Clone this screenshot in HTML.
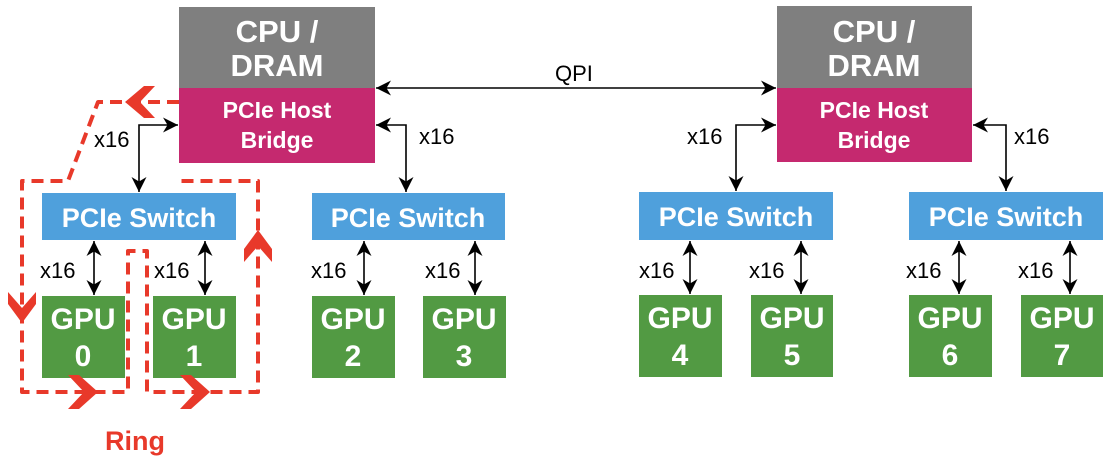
<!DOCTYPE html>
<html><head><meta charset="utf-8"><style>
html,body{margin:0;padding:0;background:#fff;}
svg{display:block;}
.b{font-family:"Liberation Sans",sans-serif;font-weight:bold;fill:#fff;text-anchor:middle;}
.l{font-family:"Liberation Sans",sans-serif;font-size:22px;fill:#000;}
</style></head><body>
<svg width="1112" height="462" viewBox="0 0 1112 462" xmlns="http://www.w3.org/2000/svg">
<defs>
<marker id="m" viewBox="0 0 10 10" refX="10" refY="5" markerWidth="15" markerHeight="15" orient="auto-start-reverse" markerUnits="userSpaceOnUse"><path d="M0,0 L10,5 L0,10 L3,5 z" fill="#000"/></marker>
</defs>
<rect x="179" y="7" width="196" height="81" fill="#7f7f7f"/>
<rect x="179" y="88" width="196" height="75" fill="#c5296f"/>
<text class="b" x="277" y="42" font-size="31">CPU /</text>
<text class="b" x="277" y="76" font-size="31">DRAM</text>
<text class="b" x="277" y="118" font-size="23">PCIe Host</text>
<text class="b" x="277" y="148" font-size="23">Bridge</text>
<rect x="777" y="6" width="195" height="82" fill="#7f7f7f"/>
<rect x="777" y="88" width="195" height="74" fill="#c5296f"/>
<text class="b" x="874" y="42" font-size="31">CPU /</text>
<text class="b" x="874" y="76" font-size="31">DRAM</text>
<text class="b" x="874" y="118" font-size="23">PCIe Host</text>
<text class="b" x="874" y="148" font-size="23">Bridge</text>
<g fill="#4fa0dc">
<rect x="42" y="193" width="194" height="47"/>
<rect x="312" y="193" width="193" height="47"/>
<rect x="639" y="192" width="194" height="48"/>
<rect x="909" y="192" width="194" height="48"/>
</g>
<g class="b" font-size="27">
<text x="139" y="227">PCIe Switch</text>
<text x="408" y="227">PCIe Switch</text>
<text x="736" y="226">PCIe Switch</text>
<text x="1006" y="226">PCIe Switch</text>
</g>
<g fill="#529a43">
<rect x="42" y="296" width="83" height="82"/>
<rect x="153" y="296" width="83" height="82"/>
<rect x="312" y="296" width="83" height="82"/>
<rect x="423" y="296" width="83" height="82"/>
<rect x="639" y="295" width="83" height="82"/>
<rect x="751" y="295" width="82" height="82"/>
<rect x="909" y="295" width="83" height="82"/>
<rect x="1021" y="295" width="82" height="82"/>
</g>
<g class="b" font-size="30">
<text x="83" y="329">GPU</text><text x="83" y="366">0</text>
<text x="194" y="329">GPU</text><text x="194" y="366">1</text>
<text x="353" y="329">GPU</text><text x="353" y="366">2</text>
<text x="464" y="329">GPU</text><text x="464" y="366">3</text>
<text x="680" y="328">GPU</text><text x="680" y="365">4</text>
<text x="792" y="328">GPU</text><text x="792" y="365">5</text>
<text x="950" y="328">GPU</text><text x="950" y="365">6</text>
<text x="1062" y="328">GPU</text><text x="1062" y="365">7</text>
</g>
<g stroke="#000" stroke-width="1.6" fill="none" marker-start="url(#m)" marker-end="url(#m)">
<path d="M376,88 H776"/>
<path d="M178,125 H139 V192"/>
<path d="M376,125 H406 V192"/>
<path d="M776,125 H736 V191"/>
<path d="M973,125 H1006 V191"/>
<path d="M94,241 V295"/><path d="M205,241 V295"/>
<path d="M364,241 V295"/><path d="M475,241 V295"/>
<path d="M690,241 V294"/><path d="M801,241 V294"/>
<path d="M959,241 V294"/><path d="M1070,241 V294"/>
</g>
<g class="l">
<text x="94" y="147">x16</text>
<text x="419" y="144">x16</text>
<text x="687" y="144">x16</text>
<text x="1014" y="144">x16</text>
<text x="40" y="278">x16</text><text x="154" y="278">x16</text>
<text x="311" y="278">x16</text><text x="425" y="278">x16</text>
<text x="639" y="278">x16</text><text x="749" y="278">x16</text>
<text x="906" y="278">x16</text><text x="1018" y="278">x16</text>
<text x="555" y="81">QPI</text>
</g>
<path d="M179,102 H98 L68,181 H22 V392 H128 V251 H147 V392 H258 V181 H181" fill="none" stroke="#e8392a" stroke-width="4" stroke-dasharray="12,7" stroke-linejoin="round"/>
<g fill="#e8392a">
<polygon points="125,102 144,86 155,86 140,102 155,118 144,118"/>
<polygon points="22,323 8,304 8,292 22,308 36,292 36,304"/>
<polygon points="98,392 79,375 68,375 84,392 68,409 79,409"/>
<polygon points="210,392 191,375 180,375 196,392 180,409 191,409"/>
<polygon points="258,230 244,249 244,262 258,246 272,262 272,249"/>
</g>
<text x="135" y="450" font-family="Liberation Sans,sans-serif" font-weight="bold" font-size="27" fill="#e8392a" text-anchor="middle">Ring</text>
</svg>
</body></html>
